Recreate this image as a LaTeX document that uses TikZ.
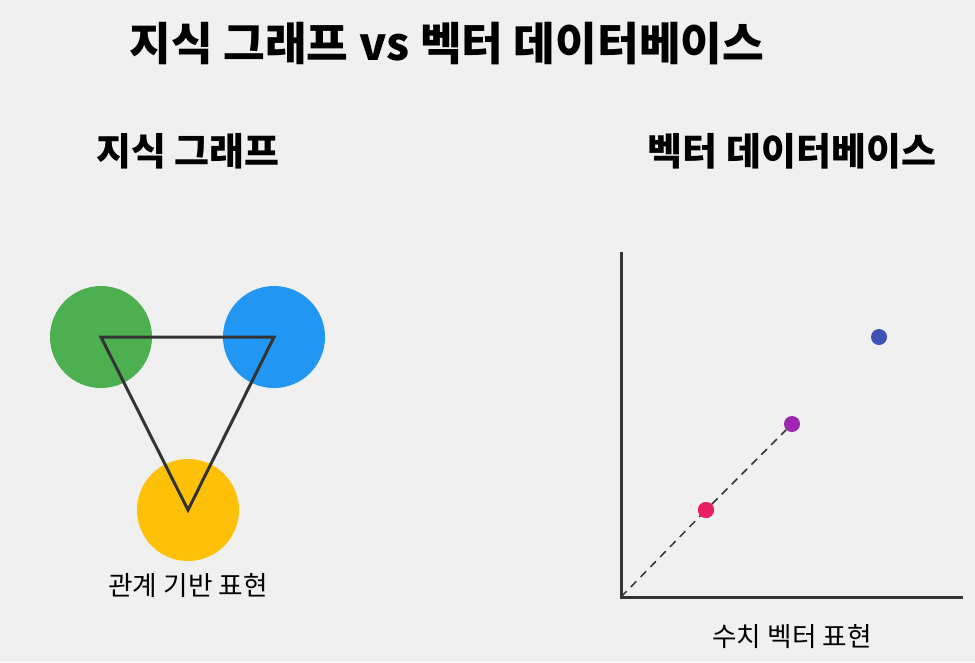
\documentclass[tikz,border=0pt]{standalone}
\usepackage{fontspec}
\setmainfont{Noto Sans CJK KR}
\definecolor{bgc}{HTML}{F0F0F0}
\definecolor{gr}{HTML}{4CAF50}
\definecolor{bl}{HTML}{2196F3}
\definecolor{ye}{HTML}{FFC107}
\definecolor{ln}{HTML}{333333}
\definecolor{pk}{HTML}{E91E63}
\definecolor{pu}{HTML}{9C27B0}
\definecolor{ib}{HTML}{3F51B5}
\tikzset{
  bignode/.style={circle, inner sep=0pt, minimum size=76.5pt},
  dotnode/.style={circle, inner sep=0pt, minimum size=12pt},
  edge/.style={draw=ln, line width=2.25pt},
  axis/.style={draw=ln, line width=2.25pt},
  dashedge/.style={draw=ln, line width=1.1pt, dash pattern=on 6pt off 4.5pt},
  titletext/.style={font=\fontsize{34}{40}\selectfont\bfseries},
  subtext/.style={font=\fontsize{28.5}{34}\selectfont\bfseries},
  labeltext/.style={font=\fontsize{20}{24}\selectfont},
}
\begin{document}
\begin{tikzpicture}[x=0.75pt,y=-0.75pt]
\fill[bgc] (0,0) rectangle (975,662);
\useasboundingbox (0,0) rectangle (975,662);
\node[titletext] (title) at (447,44) {지식 그래프 vs 벡터 데이터베이스};
\node[subtext] (kgtitle) at (188,151) {지식 그래프};
\node[subtext] (vdbtitle) at (792,151) {벡터 데이터베이스};
% knowledge graph
\node[bignode, fill=gr] (g) at (101,337) {};
\node[bignode, fill=bl] (b) at (274,337) {};
\node[bignode, fill=ye] (y) at (188,510) {};
\draw[edge, line join=miter] (g.center) -- (b.center) -- (y.center) -- cycle;
\node[labeltext] (kglabel) at (188,585) {관계 기반 표현};
% vector db
\coordinate (top) at (621,252);
\coordinate (o) at (621,597);
\coordinate (right) at (963,597);
\node[dotnode, fill=pk] (p1) at (706,510) {};
\node[dotnode, fill=pu] (p2) at (792,424) {};
\node[dotnode, fill=ib] (p3) at (879,337) {};
\draw[dashedge] (o) -- (p1.center);
\draw[dashedge] (p1) -- (p2);
\node[dotnode, fill=pk] at (p1) {};
\draw[axis] (top) -- (o) -- (right);
\node[labeltext] (vlabel) at (792,637) {수치 벡터 표현};
\end{tikzpicture}
\end{document}
